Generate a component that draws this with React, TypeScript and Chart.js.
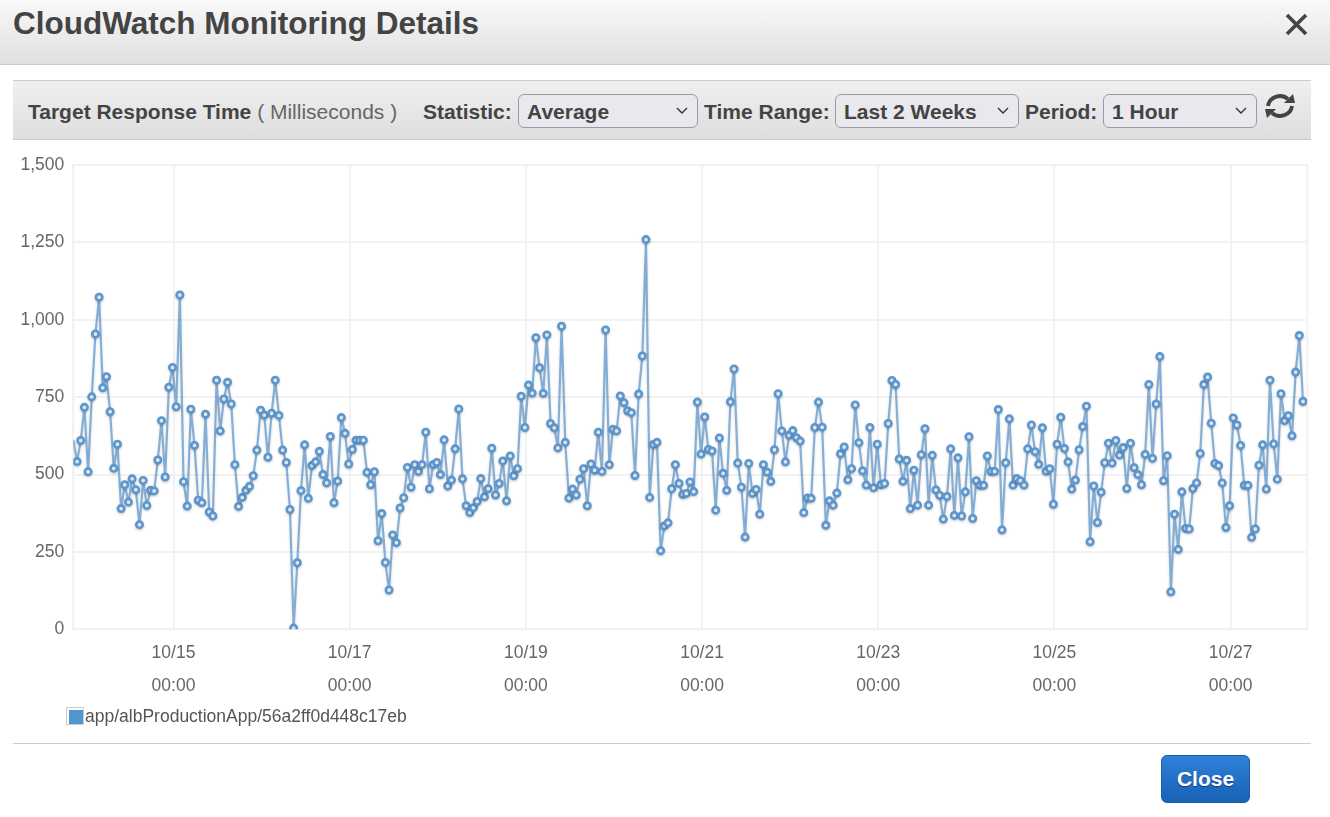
import React, { useEffect, useRef } from "react";
import { Chart, registerables } from "chart.js";

Chart.register(...registerables);

const seriesLabel = "app/albProductionApp/56a2ff0d448c17eb";
const firstHour = -27.27;
const yTicks = [0, 250, 500, 750, 1000, 1250, 1500];
const tickHours = [0, 48, 96, 144, 192, 240, 288];
const tickDates = ["10/15", "10/17", "10/19", "10/21", "10/23", "10/25", "10/27"];
const tickTime = "00:00";

const responseTime = [
  611, 542, 610, 717, 509, 751, 954, 1073, 780, 816, 703, 520, 598, 390, 467, 411, 486, 451, 338, 481,
  400, 449, 447, 547, 674, 492, 782, 846, 719, 1080, 477, 398, 711, 594, 417, 409, 695, 379, 366, 805,
  641, 744, 798, 728, 532, 397, 426, 449, 462, 496, 579, 708, 692, 556, 698, 805, 691, 579, 539, 387,
  4, 215, 448, 596, 423, 529, 541, 575, 500, 473, 623, 409, 479, 684, 633, 534, 581, 611, 611, 611,
  507, 467, 509, 286, 374, 216, 127, 305, 280, 392, 425, 523, 459, 532, 510, 532, 637, 454, 532, 539,
  500, 612, 463, 482, 583, 712, 486, 399, 377, 393, 413, 487, 428, 454, 585, 434, 471, 544, 415, 560,
  496, 519, 753, 652, 789, 763, 942, 845, 762, 951, 665, 651, 586, 979, 604, 424, 453, 434, 485, 519,
  399, 534, 514, 637, 510, 967, 532, 646, 641, 754, 732, 706, 700, 497, 760, 883, 1259, 426, 597, 604,
  254, 334, 344, 454, 532, 471, 436, 439, 476, 445, 734, 566, 686, 581, 576, 385, 618, 504, 449, 735,
  841, 537, 459, 298, 536, 439, 452, 372, 532, 508, 478, 580, 761, 641, 541, 627, 642, 619, 608, 377,
  424, 423, 652, 734, 653, 336, 415, 401, 440, 567, 589, 483, 519, 725, 603, 512, 466, 652, 457, 598,
  467, 471, 665, 804, 791, 550, 478, 546, 390, 514, 401, 564, 648, 401, 562, 450, 433, 356, 429, 583,
  368, 554, 366, 444, 622, 358, 480, 465, 465, 560, 510, 510, 710, 321, 538, 680, 466, 487, 480, 466,
  583, 660, 574, 533, 651, 511, 519, 404, 598, 685, 584, 541, 453, 482, 580, 655, 721, 283, 463, 345,
  443, 538, 601, 537, 610, 563, 587, 455, 601, 522, 500, 467, 565, 791, 552, 728, 881, 480, 561, 121,
  372, 258, 444, 326, 324, 455, 473, 568, 791, 815, 666, 536, 529, 473, 329, 399, 683, 660, 594, 465,
  465, 297, 324, 530, 596, 453, 805, 599, 485, 761, 674, 690, 625, 831, 949, 736,
];

const lineColor = "rgba(84,146,203,0.68)";
const markerColor = "#5a96cf";
const gridColor = "#f2f2f2";
const textColor = "#666666";
const uiFont = '"Liberation Sans", Arial, sans-serif';

const chevron =
  "url(\"data:image/svg+xml;utf8,<svg xmlns='http://www.w3.org/2000/svg' width='12' height='8'><path d='M1 1 L6 6 L11 1' stroke='%23333' stroke-width='1.4' fill='none'/></svg>\")";

const frameAndShadow = {
  id: "frameAndShadow",
  beforeDatasetsDraw(chart: any) {
    const { ctx, chartArea: a } = chart;
    ctx.save();
    ctx.strokeStyle = gridColor;
    ctx.lineWidth = 2;
    ctx.strokeRect(a.left, a.top, a.right - a.left, a.bottom - a.top);
    ctx.restore();
    ctx.save();
    ctx.shadowColor = "rgba(0,0,0,0.2)";
    ctx.shadowBlur = 3;
    ctx.shadowOffsetY = 1;
  },
  afterDatasetsDraw(chart: any) {
    chart.ctx.restore();
  },
};

const selectStyle: React.CSSProperties = {
  position: "absolute",
  top: 94,
  height: 34,
  boxSizing: "border-box",
  font: `bold 21px ${uiFont}`,
  color: "#444",
  backgroundColor: "#e8e8ed",
  backgroundImage: chevron,
  backgroundRepeat: "no-repeat",
  backgroundPosition: "right 9px center",
  appearance: "none",
  WebkitAppearance: "none",
  border: "1px solid #9a99a8",
  borderRadius: 6,
  paddingLeft: 8,
};
const labelStyle: React.CSSProperties = {
  position: "absolute",
  top: 97,
  font: `bold 21px/30px ${uiFont}`,
  color: "#444",
  whiteSpace: "nowrap",
};

export default function App() {
  const ref = useRef<HTMLCanvasElement>(null);

  useEffect(() => {
    document.body.style.margin = "0";
    const chart = new Chart(ref.current!, {
      type: "line",
      data: {
        datasets: [
          {
            label: seriesLabel,
            data: responseTime.map((y, i) => ({ x: firstHour + i, y })),
            borderColor: lineColor,
            borderWidth: 2.2,
            borderJoinStyle: "round",
            tension: 0,
            pointBackgroundColor: "#ffffff",
            pointBorderColor: markerColor,
            pointBorderWidth: 2.6,
            pointRadius: (c: any) => (c.dataIndex === 0 ? 0 : 3.2),
          },
        ],
      },
      options: {
        animation: false,
        responsive: false,
        layout: { padding: { top: 15, right: 22.7, left: 0, bottom: 0 } },
        plugins: { legend: { display: false }, tooltip: { enabled: false } },
        scales: {
          x: {
            type: "linear",
            min: -27.3,
            max: 308.9,
            afterBuildTicks(s: any) {
              s.ticks = tickHours.map((value) => ({ value }));
            },
            afterFit(s: any) {
              s.height = 80.7;
              s.paddingLeft = 0;
              s.paddingRight = 0;
            },
            grid: { color: gridColor, lineWidth: 2, drawTicks: false },
            border: { color: gridColor, width: 2 },
            ticks: {
              autoSkip: false,
              maxRotation: 0,
              padding: 7,
              color: textColor,
              font: { family: uiFont, size: 17.5, lineHeight: 33 / 17.5 },
              callback: (_v: any, i: number) => [tickDates[i], tickTime],
            },
          },
          y: {
            min: yTicks[0],
            max: yTicks[yTicks.length - 1],
            afterBuildTicks(s: any) {
              s.ticks = yTicks.map((value) => ({ value }));
            },
            afterFit(s: any) {
              s.width = 73.3;
              s.paddingTop = 0;
              s.paddingBottom = 0;
            },
            grid: { color: gridColor, lineWidth: 2, drawTicks: false },
            border: { color: gridColor, width: 2 },
            ticks: {
              padding: 9,
              color: textColor,
              font: { family: uiFont, size: 17.5 },
            },
          },
        },
      },
      plugins: [frameAndShadow],
    } as any);
    return () => chart.destroy();
  }, []);

  return (
    <div style={{ position: "absolute", left: 0, top: 0, width: 1330, height: 817, overflow: "hidden", background: "#fff", fontFamily: uiFont }}>
      <div style={{ position: "absolute", left: 0, top: 0, width: 1330, height: 64, background: "linear-gradient(#f9f9f9,#e0e0e0)", borderBottom: "1px solid #ccc" }} />
      <div style={{ position: "absolute", left: 13, top: 3, font: `bold 31.5px/40px ${uiFont}`, color: "#444", whiteSpace: "nowrap" }}>
        CloudWatch Monitoring Details
      </div>
      <svg style={{ position: "absolute", left: 1285, top: 13 }} width="24" height="24" viewBox="0 0 24 24">
        <path d="M2 2 L21 21 M21 2 L2 21" stroke="#444" strokeWidth="3.6" fill="none" />
      </svg>

      <div style={{ position: "absolute", left: 13, top: 80, width: 1298, height: 58, background: "linear-gradient(#f0f0f0,#dedede)", borderTop: "1px solid #ccc", borderBottom: "1px solid #ccc" }} />
      <div style={{ ...labelStyle, left: 28 }}>
        Target Response Time <span style={{ fontWeight: "normal", color: "#666" }}>( Milliseconds )</span>
      </div>
      <div style={{ ...labelStyle, left: 423 }}>Statistic:</div>
      <select style={{ ...selectStyle, left: 518, width: 180 }} defaultValue="Average">
        <option>Average</option>
      </select>
      <div style={{ ...labelStyle, left: 704 }}>Time Range:</div>
      <select style={{ ...selectStyle, left: 835, width: 184 }} defaultValue="Last 2 Weeks">
        <option>Last 2 Weeks</option>
      </select>
      <div style={{ ...labelStyle, left: 1025 }}>Period:</div>
      <select style={{ ...selectStyle, left: 1103, width: 154 }} defaultValue="1 Hour">
        <option>1 Hour</option>
      </select>
      <svg style={{ position: "absolute", left: 1263, top: 91 }} width="34" height="30" viewBox="0 0 34 30">
        <path d="M5 15 A12 11 0 0 1 25 8" stroke="#444" strokeWidth="3.8" fill="none" />
        <path d="M21 12 L32 12 L30 3 Z" fill="#444" />
        <path d="M29 15 A12 11 0 0 1 9 22" stroke="#444" strokeWidth="3.8" fill="none" />
        <path d="M13 18 L2 18 L4 27 Z" fill="#444" />
      </svg>

      <canvas ref={ref} width={1330} height={560} style={{ position: "absolute", left: 0, top: 150, width: 1330, height: 560 }} />

      <div style={{ position: "absolute", left: 66, top: 707, width: 16, height: 16, border: "1px solid #ccc", background: "#fff" }}>
        <div style={{ position: "absolute", left: 2, top: 2, width: 14, height: 14, background: "#5295d3" }} />
      </div>
      <div style={{ position: "absolute", left: 85, top: 705, font: `17.5px/22px ${uiFont}`, color: "#555", whiteSpace: "nowrap" }}>
        {seriesLabel}
      </div>

      <div style={{ position: "absolute", left: 13, top: 743, width: 1298, height: 1, background: "#ccc" }} />
      <div style={{ position: "absolute", left: 1161, top: 755, width: 89, height: 48, boxSizing: "border-box", borderRadius: 6, border: "1px solid #1a5ea8", background: "linear-gradient(#2f81d9,#1862b5)", color: "#fff", font: `bold 21px/46px ${uiFont}`, textAlign: "center", textShadow: "0 1px 1px rgba(0,0,60,.5)" }}>
        Close
      </div>
    </div>
  );
}
